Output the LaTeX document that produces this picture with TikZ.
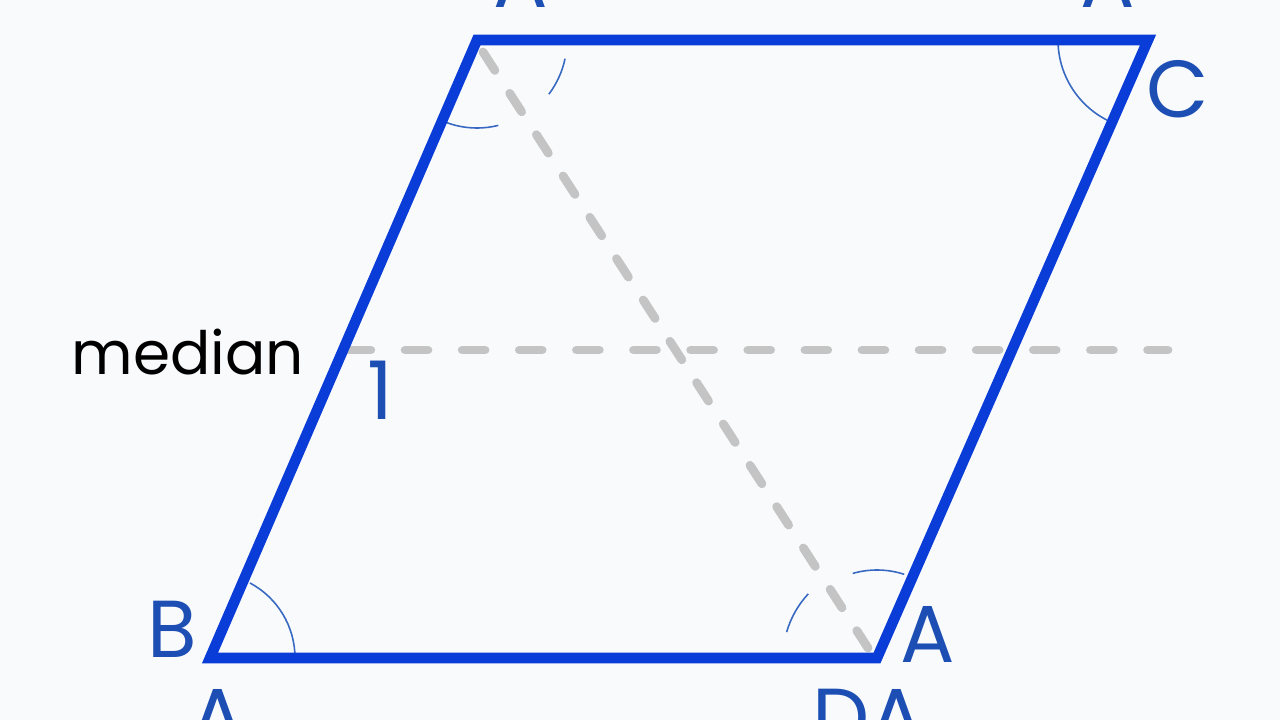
\documentclass[tikz,border=0pt]{standalone}
\usepackage{fontspec}
\setmainfont{Poppins}
\usetikzlibrary{positioning}
\definecolor{edgeblue}{RGB}{10,60,215}
\definecolor{labelblue}{RGB}{28,78,180}
\definecolor{arcblue}{RGB}{55,105,195}
\definecolor{guidegray}{RGB}{196,196,196}
\definecolor{paper}{RGB}{249,250,251}
\tikzstyle{side}=[draw=edgeblue,line width=6pt,line join=miter]
\tikzstyle{guide}=[draw=guidegray,line width=5pt,line cap=round]
\tikzstyle{anglemark}=[draw=arcblue,line width=0.9pt]
\tikzstyle{vlabel}=[text=labelblue,font=\fontsize{46}{50}\selectfont,inner sep=0pt,anchor=base]

\begin{document}
\begin{tikzpicture}[x=0.2mm,y=-0.2mm]
  \clip (0,0) rectangle (1280,720);
  \fill[paper] (0,0) rectangle (1280,720);
  % corners
  \coordinate (tl) at (477,40);
  \coordinate (tr) at (1148,40);
  \coordinate (br) at (877,658);
  \coordinate (bl) at (210,658);
  % guide lines
  \coordinate (ml) at (348,350);
  \coordinate (mr) at (1168,350);
  \coordinate (dt) at (483,52);
  \coordinate (db) at (868,648);
  \draw[guide,dash pattern=on 13pt off 19.5pt] (ml) -- (mr);
  \draw[guide,dash pattern=on 12.5pt off 15.5pt] (dt) -- (db);
  % angle marks
  \draw[anglemark] ([shift={(0:85)}]bl) arc[start angle=0,end angle=-62,radius=85];
  \draw[anglemark] ([shift={(110:88)}]tl) arc[start angle=110,end angle=76,radius=88];
  \draw[anglemark] ([shift={(12:90)}]tl) arc[start angle=12,end angle=37,radius=90];
  \draw[anglemark] ([shift={(180:90)}]tr) arc[start angle=180,end angle=117,radius=90];
  \draw[anglemark] ([shift={(-72:88)}]br) arc[start angle=-72,end angle=-106,radius=88];
  \draw[anglemark] ([shift={(-137:94)}]br) arc[start angle=-137,end angle=-164,radius=94];
  % sides
  \draw[side] (tl) -- (tr) -- (br) -- (bl) -- cycle;
  % labels
  \node(atl)[vlabel] at (521,8) {A};
  \node(atr)[vlabel] at (1108,8) {A};
  \node(lc)[vlabel] at (1178,118) {C};
  \node(lb)[vlabel] at (172,657) {B};
  \node(abl)[vlabel] at (218,745) {A};
  \node(lda)[vlabel] at (868,745) {DA};
  \node(abr)[vlabel] at (928,662) {A};
  \node(one)[vlabel] at (380,420) {1};
  \node(median)[anchor=base,inner sep=0pt,font=\fontsize{34}{38}\selectfont] at (188,374) {median};
\end{tikzpicture}
\end{document}
